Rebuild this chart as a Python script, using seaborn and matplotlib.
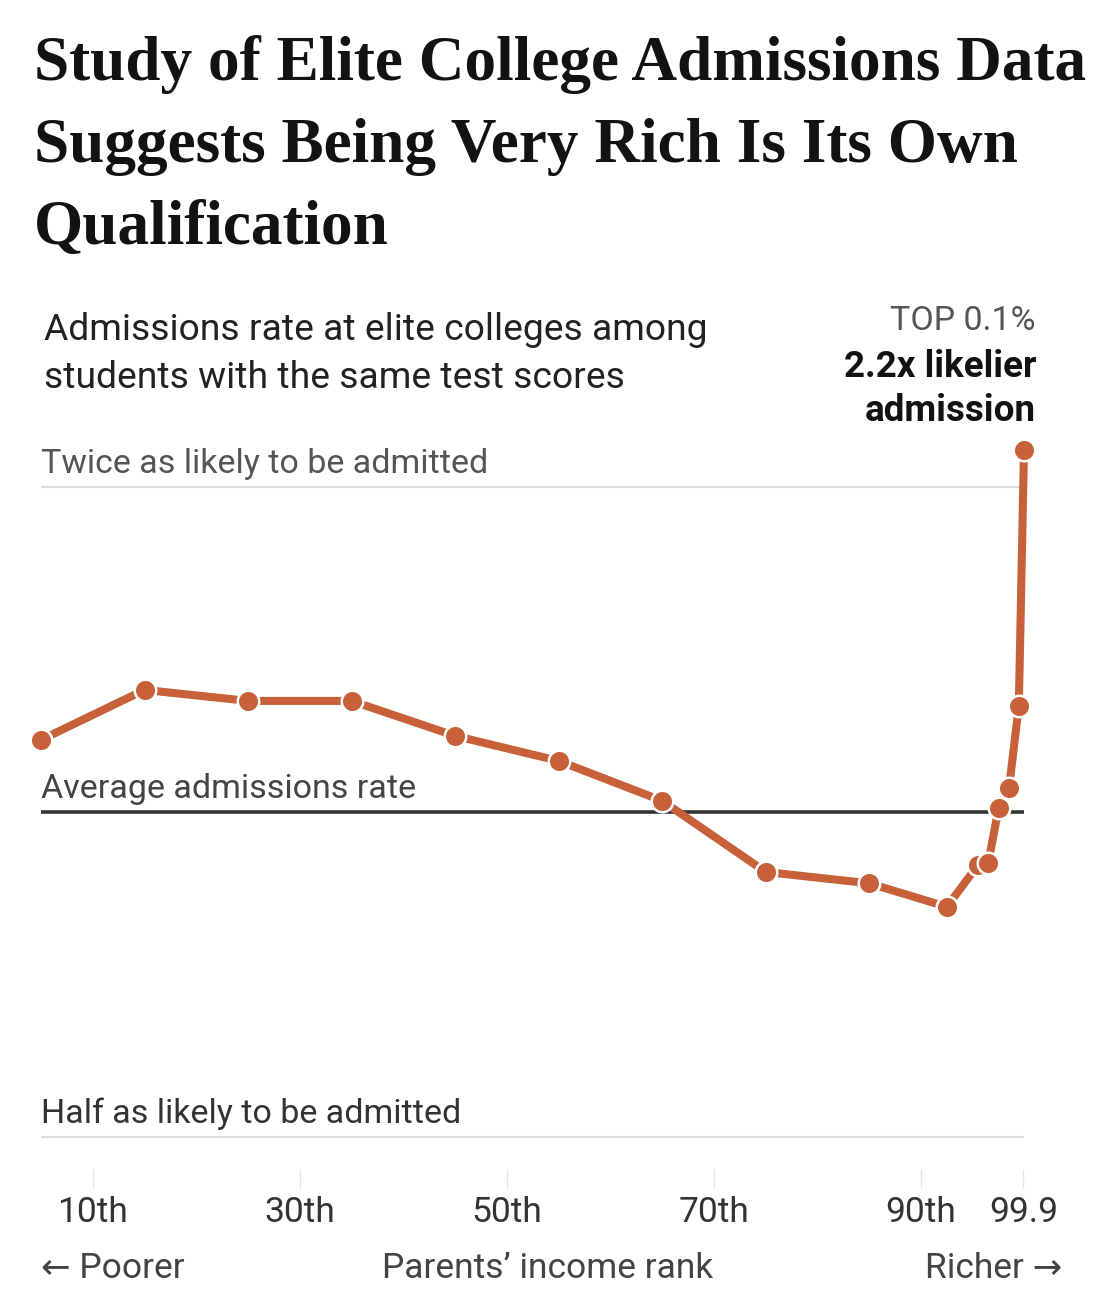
import numpy as np
import pandas as pd
import seaborn as sns
import matplotlib.pyplot as plt

# parents' income percentile vs. relative admissions rate (1 = average)
income_rank = [5, 15, 25, 35, 45, 55, 65, 75, 85, 92.5, 95.5, 96.5, 97.5, 98.5, 99.45, 99.95]
relative_rate = [1.165, 1.296, 1.266, 1.266, 1.175, 1.114, 1.023, 0.879, 0.858,
                 0.816, 0.892, 0.896, 1.008, 1.051, 1.252, 2.162]
tick_positions = [10, 30, 50, 70, 90, 99.9]
tick_labels = ["10th", "30th", "50th", "70th", "90th", "99.9"]
ref_levels = [2, 1, 0.5]
ref_labels = ["Twice as likely to be admitted", "Average admissions rate", "Half as likely to be admitted"]

df = pd.DataFrame({"rank": income_rank, "rate": relative_rate})

sns.set_style("white")
plt.rcParams['font.family'] = ['Roboto', 'DejaVu Sans']

W, H = 1112, 1314
fig = plt.figure(figsize=(W / 100, H / 100), dpi=100)

def fx(px):
    return px / W

def fy(py):
    return 1 - py / H

orange = "#c8603a"

# title
title_lines = ["Study of Elite College Admissions Data",
               "Suggests Being Very Rich Is Its Own",
               "Qualification"]
for i, line in enumerate(title_lines):
    fig.text(fx(34), fy(80 + i * 82), line, fontsize=45.5, fontweight="bold",
             family=["Liberation Serif", "DejaVu Serif"], color="#121212", va="baseline")

fig.text(fx(44), fy(340), "Admissions rate at elite colleges among", fontsize=26.8, color="#222222", va="baseline")
fig.text(fx(44), fy(388), "students with the same test scores", fontsize=26.8, color="#222222", va="baseline")

fig.text(fx(1036), fy(330), "TOP 0.1%", fontsize=24.5, color="#555555", ha="right", va="baseline")
fig.text(fx(1036), fy(377), "2.2x likelier", fontsize=26.5, color="#121212", ha="right",
         va="baseline", fontweight="bold")
fig.text(fx(1036), fy(421), "admission", fontsize=26.5, color="#121212", ha="right",
         va="baseline", fontweight="bold")

ax = fig.add_axes([fx(41), fy(1188), (1024 - 41) / W, (1188 - 430) / H])
ax.set_yscale("log", base=2)
ax.set_xlim(5, 99.95)
ax.set_ylim(2 ** ((811.5 - 1188) / 325), 2 ** ((811.5 - 430) / 325))

ax.axhline(2, color="#dddddd", lw=1.6, zorder=1)
ax.axhline(1, color="#333333", lw=2.6, zorder=1)
ax.axhline(0.5, color="#dddddd", lw=1.6, zorder=1)

label_colors = ["#555555", "#444444", "#333333"]
for lvl, lab, c in zip(ref_levels, ref_labels, label_colors):
    ax.annotate(lab, xy=(5, lvl), xytext=(0, 4.5), textcoords="offset points",
                fontsize=24.5, color=c, va="bottom", ha="left")

sns.lineplot(data=df, x="rank", y="rate", ax=ax, color=orange, linewidth=5.8,
             marker="o", markersize=15.5, markeredgecolor="white", markeredgewidth=1.8,
             clip_on=False, zorder=3)

ax.set_xticks(tick_positions)
ax.set_xticklabels(tick_labels)
ax.set_yticks([])
ax.minorticks_off()
ax.tick_params(axis="x", direction="in", length=14, width=1, color="#e6e6e6",
               pad=6, labelsize=25.5, labelcolor="#333333", bottom=True)
ax.set_xlabel("")
ax.set_ylabel("")
for s in ax.spines.values():
    s.set_visible(False)
ax.patch.set_alpha(0)

fig.text(fx(41), fy(1278), "\u2190 Poorer", fontsize=25.5, color="#444444", va="baseline")
fig.text(fx(548), fy(1278), "Parents\u2019 income rank", fontsize=25.5, color="#444444",
         va="baseline", ha="center")
fig.text(fx(1062), fy(1278), "Richer \u2192", fontsize=25.5, color="#444444",
         va="baseline", ha="right")

fig.savefig("out.png", dpi=100)
